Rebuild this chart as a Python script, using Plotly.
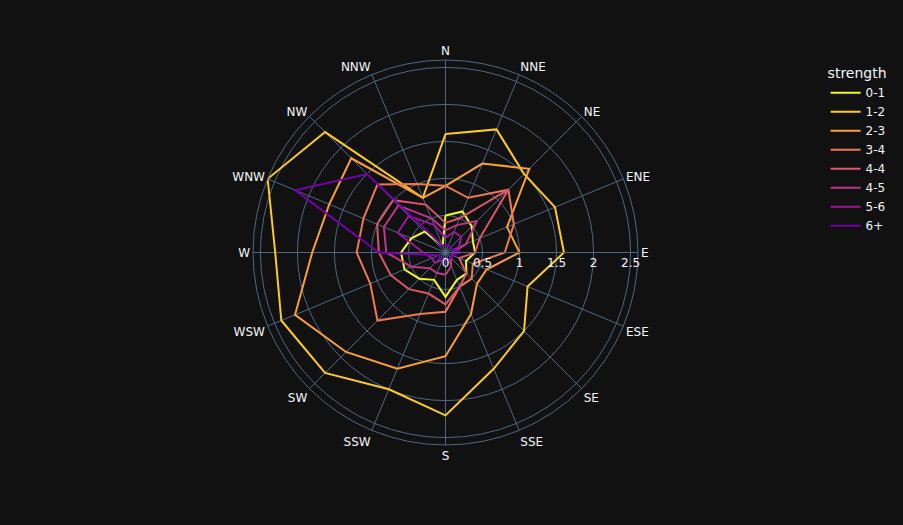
import pandas as pd
import plotly.express as px

directions = ["N", "NNE", "NE", "ENE", "E", "ESE", "SE", "SSE",
              "S", "SSW", "SW", "WSW", "W", "WNW", "NW", "NNW"]
strengths = ["0-1", "1-2", "2-3", "3-4", "4-4", "4-5", "5-6", "6+"]

freq_0_1 = [0.5, 0.6, 0.5, 0.4, 0.4, 0.3, 0.4, 0.4, 0.6, 0.4, 0.5, 0.6, 0.6, 0.5, 0.4, 0.1]
freq_1_2 = [1.6, 1.8, 1.5, 1.6, 1.6, 1.2, 1.5, 1.7, 2.2, 2.0, 2.3, 2.4, 2.3, 2.6, 2.3, 0.8]
freq_2_3 = [0.9, 1.3, 1.6, 0.9, 1.0, 0.6, 0.6, 0.9, 1.4, 1.7, 1.9, 2.2, 1.8, 1.7, 1.8, 0.8]
freq_3_4 = [0.9, 0.8, 1.2, 1.0, 0.8, 0.4, 0.5, 0.5, 0.8, 0.9, 1.3, 1.1, 1.2, 1.2, 1.3, 1.0]
freq_4_4 = [0.4, 0.5, 1.2, 0.5, 0.4, 0.2, 0.4, 0.5, 0.7, 0.6, 0.7, 0.8, 0.9, 1.0, 1.0, 0.7]
freq_4_5 = [0.3, 0.4, 0.6, 0.3, 0.1, 0.1, 0.1, 0.2, 0.3, 0.3, 0.3, 0.5, 0.8, 0.9, 0.9, 0.5]
freq_5_6 = [0.2, 0.3, 0.3, 0.2, 0.1, 0.1, 0.1, 0.1, 0.1, 0.1, 0.2, 0.2, 0.3, 0.7, 0.7, 0.4]
freq_6p  = [0.1, 0.1, 0.1, 0.1, 0.2, 0.1, 0.1, 0.1, 0.1, 0.1, 0.1, 0.1, 0.9, 2.2, 1.5, 0.1]

series = [freq_0_1, freq_1_2, freq_2_3, freq_3_4, freq_4_4, freq_4_5, freq_5_6, freq_6p]

rows = []
for s, vals in zip(strengths, series):
    for d, v in zip(directions, vals):
        rows.append({"direction": d, "strength": s, "frequency": v})
df = pd.DataFrame(rows)

fig = px.line_polar(df, r="frequency", theta="direction", color="strength",
                    line_close=True,
                    color_discrete_sequence=px.colors.sequential.Plasma_r,
                    template="plotly_dark")
fig.update_layout(width=903, height=525,
                  font=dict(family="Verdana, DejaVu Sans, sans-serif"))
fig.write_html("out.html",
               config={"displayModeBar": False},
               post_script="document.body.style.margin='0';"
                           "document.body.style.overflow='hidden';"
                           "document.body.style.background='#111111';")
